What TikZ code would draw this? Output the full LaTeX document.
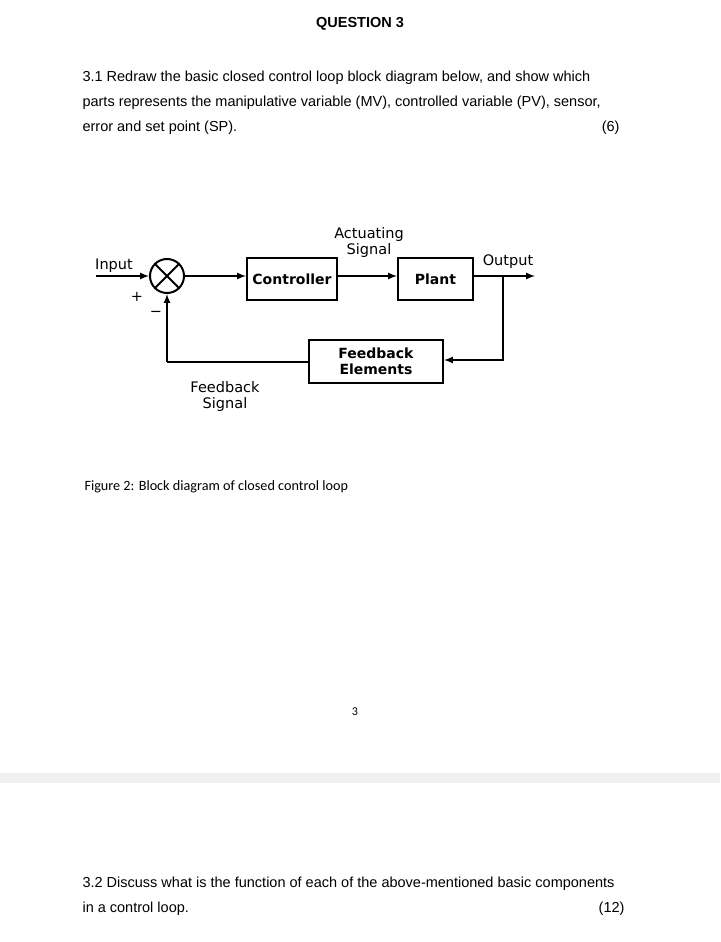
\documentclass[tikz,border=0pt]{standalone}
\usepackage{fontspec}
\setmainfont{Liberation Sans}
\newfontfamily\dvfont{DejaVu Sans}
\newfontfamily\carlfont{Carlito}
\begin{document}
\begin{tikzpicture}[x=1pt,y=-1pt,
  blk/.style={draw,line width=2pt,font=\dvfont\bfseries\fontsize{14}{16}\selectfont,inner sep=0pt,align=center},
  ln/.style={line width=2pt},
  arr/.style={ln,-latex},
  lbl/.style={font=\dvfont\fontsize{14.5}{16}\selectfont,align=center},
  txt/.style={font=\fontsize{14.5}{16}\selectfont,anchor=west}]
\useasboundingbox (0,0) rectangle (720,942);
\fill[black!6] (0,773) rectangle (720,783);
\node[font=\bfseries\fontsize{14.5}{16}\selectfont] (q) at (360,24) {QUESTION 3};
\node[txt] (l1) at (79,78) {3.1 Redraw the basic closed control loop block diagram below, and show which};
\node[txt] (l2) at (79,103) {parts represents the manipulative variable (MV), controlled variable (PV), sensor,};
\node[txt] (l3) at (79,128) {error and set point (SP).};
\node[txt,anchor=east] (m1) at (623,128) {(6)};
% diagram
\node[draw,circle,ln,minimum size=34pt,inner sep=0pt] (s) at (167,276) {};
\draw[ln] (s.north west) -- (s.south east) (s.north east) -- (s.south west);
\node[blk,minimum width=90pt,minimum height=42pt] (c) at (292,279) {Controller};
\node[blk,minimum width=75pt,minimum height=42pt] (p) at (435.5,279) {Plant};
\node[blk,minimum width=134pt,minimum height=43pt] (f) at (376,361.5) {Feedback\\Elements};
\coordinate (in) at (96,276);
\coordinate (out) at (535,276);
\coordinate (br) at (503,276);
\coordinate (fl) at (167,362);
\draw[arr] (in) -- (s.west);
\draw[arr] (s.east) -- (c.west |- s.east);
\draw[arr] (c.east |- 0,276) -- (p.west |- 0,276);
\draw[arr] (p.east |- 0,276) -- (out);
\draw[arr] (br) |- (f.east |- 0,360);
\draw[ln] (f.west |- fl) -- (fl);
\draw[arr] (fl) -- (s.south);
\node[lbl] (li) at (114,266) {Input};
\node[lbl] (lp) at (137,297) {+};
\node[lbl] (lm) at (156,314) {\textminus};
\node[lbl,font=\dvfont\fontsize{14.5}{16}\selectfont] (la) at (369,242) {Actuating\\Signal};
\node[lbl] (lo) at (508,262) {Output};
\node[lbl,font=\dvfont\fontsize{14.5}{16}\selectfont] (lf) at (225,396) {Feedback\\Signal};
\node[font=\carlfont\fontsize{14.2}{16}\selectfont,anchor=west] (cap) at (81,487) {Figure 2: Block diagram of closed control loop};
\node[font=\carlfont\fontsize{12}{13}\selectfont] (pg) at (355,712) {3};
\node[txt] (l4) at (79,884) {3.2 Discuss what is the function of each of the above-mentioned basic components};
\node[txt] (l5) at (79,909) {in a control loop.};
\node[txt,anchor=east] (m2) at (628,909) {(12)};
\end{tikzpicture}
\end{document}
